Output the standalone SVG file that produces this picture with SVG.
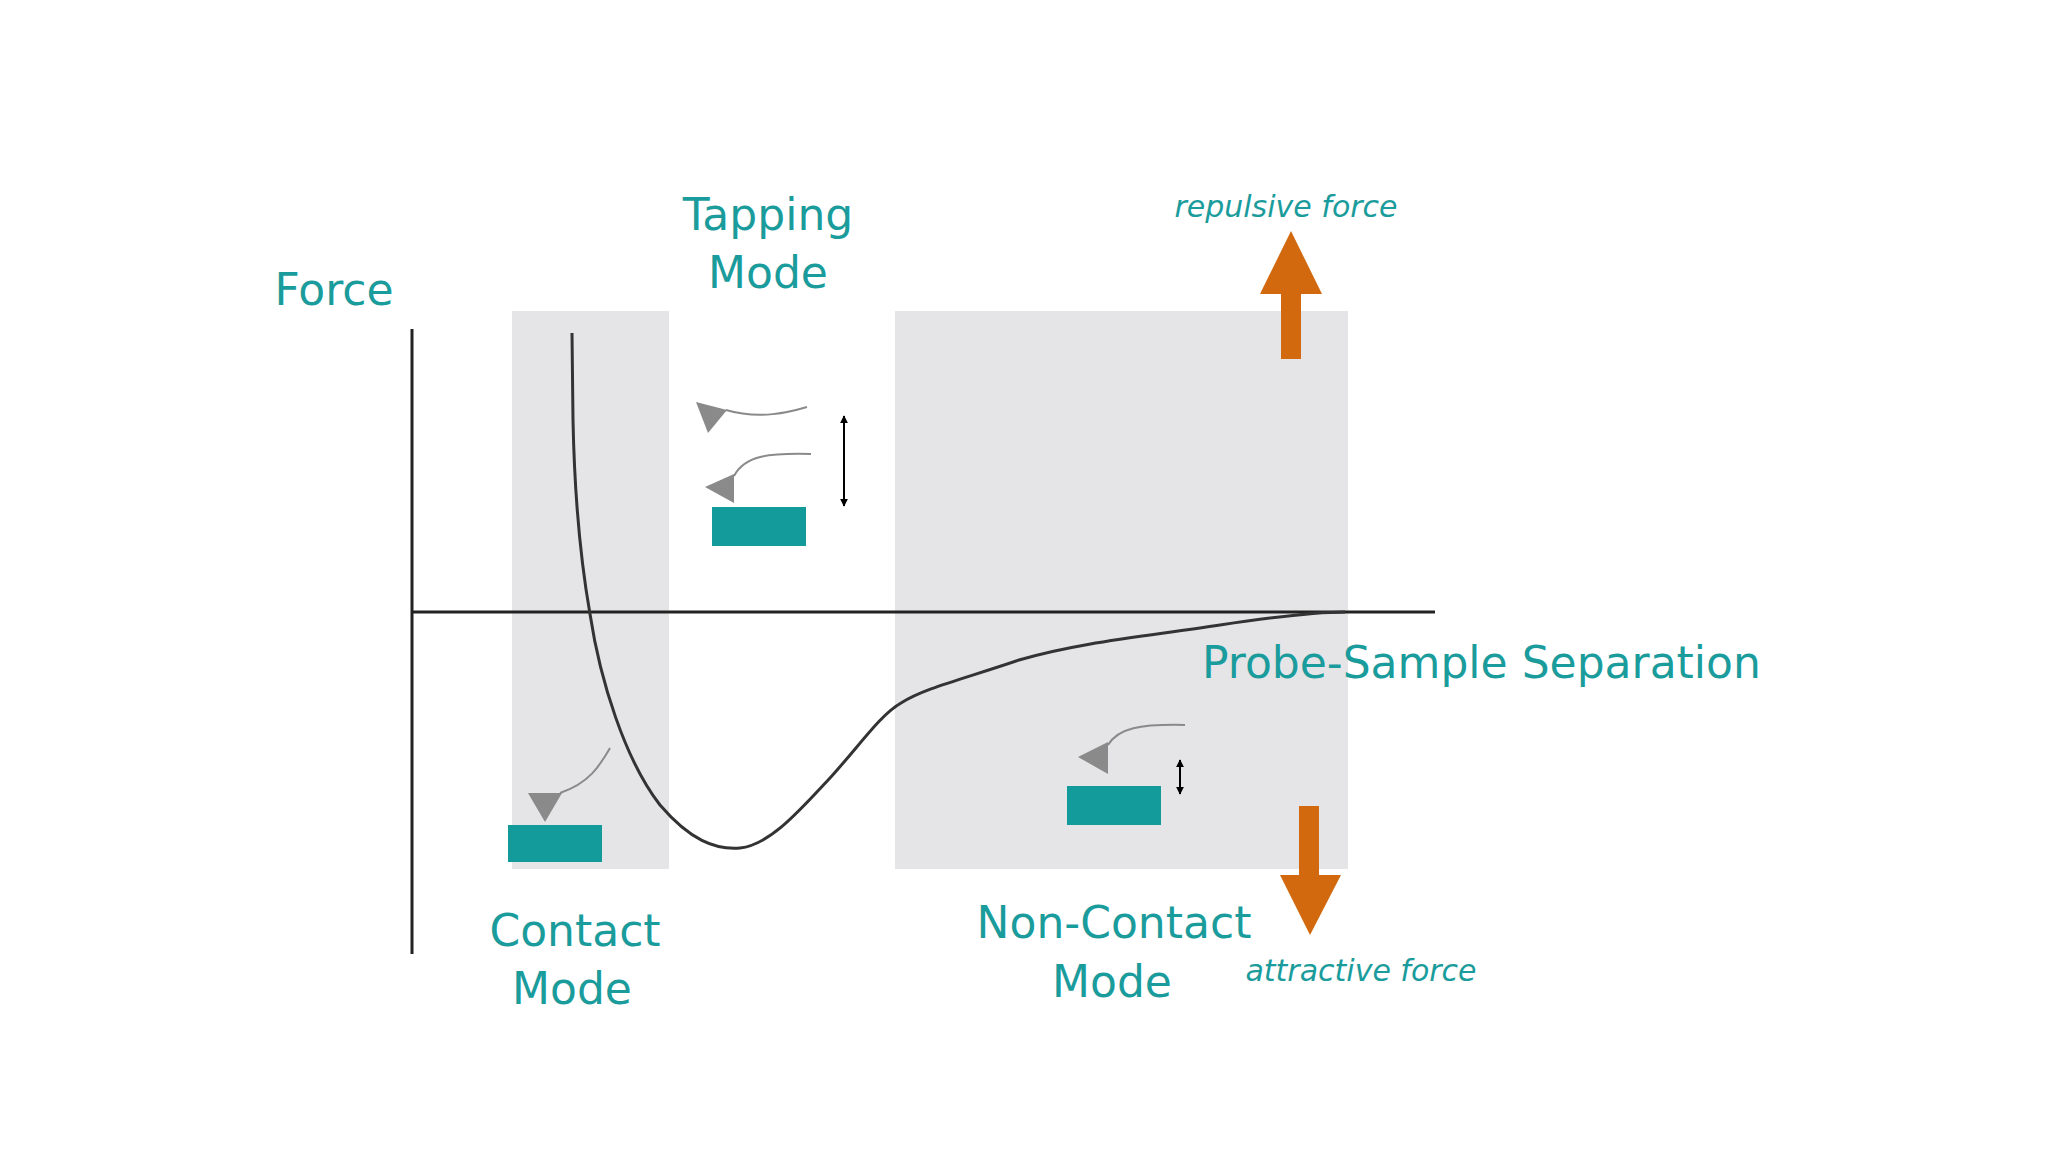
<svg xmlns="http://www.w3.org/2000/svg" width="2048" height="1152" viewBox="0 0 2048 1152">
<defs>
<style>
.lbl{font-family:"DejaVu Sans","Liberation Sans",Arial,sans-serif;fill:#1b9c9c;font-size:44px;text-anchor:middle}
.it{font-family:"DejaVu Sans","Liberation Sans",Arial,sans-serif;fill:#1b9c9c;font-size:30px;font-style:italic;text-anchor:middle}
.band{fill:#e5e4e7}
.teal{fill:#139a9a}
.tri{fill:#8a8a8a}
.cant{fill:none;stroke:#8a8a8a;stroke-width:2}
.orange{fill:#d2690e}
</style>
<marker id="ah" viewBox="0 0 10 10" refX="9" refY="5" markerWidth="4" markerHeight="4" orient="auto-start-reverse"><path d="M0,0L10,5L0,10z" fill="#000"/></marker>
<clipPath id="cl"><rect x="0" y="0" width="1766" height="1152"/></clipPath>
</defs>
<rect width="2048" height="1152" fill="#fff"/>
<g id="contact-band"><rect class="band" x="512" y="311" width="157" height="558"/></g>
<g id="noncontact-band"><rect class="band" x="895" y="311" width="453" height="558"/></g>
<g id="axes" stroke="#222" stroke-width="3" fill="none">
<line x1="412" y1="329" x2="412" y2="954"/>
<line x1="411" y1="612" x2="1435" y2="612"/>
</g>
<g id="curve"><path d="M572,333 L573,420 C574,470 577,540 590,614 C600,680 625,760 660,805 C690,840 715,850 740,848 C770,845 800,810 830,778 C860,745 880,715 901,703 C925,688 960,680 1019,660 C1080,642 1149,636 1220,625 C1280,616 1320,612 1345,612" fill="none" stroke="#333" stroke-width="3"/></g>
<text class="lbl" x="334" y="305">Force</text>
<text class="lbl" x="768" y="230">Tapping</text>
<text class="lbl" x="768" y="288">Mode</text>
<text class="lbl" x="575" y="946">Contact</text>
<text class="lbl" x="572" y="1004">Mode</text>
<text class="lbl" x="1114" y="938">Non-Contact</text>
<text class="lbl" x="1112" y="997">Mode</text>
<text class="lbl" x="1202" y="678" style="text-anchor:start" clip-path="url(#cl)">Probe-Sample Separation</text>
<text class="it" x="1286" y="217">repulsive force</text>
<text class="it" x="1361" y="981">attractive force</text>
<g id="repulsive-arrow"><path class="orange" d="M1281,359 L1301,359 L1301,294 L1322,294 L1291,231 L1260,294 L1281,294z"/></g>
<g id="attractive-arrow"><path class="orange" d="M1299,806 L1319,806 L1319,875 L1341,875 L1310,935 L1280,875 L1299,875z"/></g>
<g id="contact-probe">
<rect class="teal" x="508" y="825" width="94" height="37"/>
<path class="tri" d="M528,793 L562,793 L545,822z"/>
<path class="cant" d="M560,793 C590,783 600,765 610,748"/>
</g>
<g id="tapping-probe">
<rect class="teal" x="712" y="507" width="94" height="39"/>
<path class="tri" d="M696,402 L727,410 L708,433z"/>
<path class="cant" d="M726,410 C760,420 790,412 807,407"/>
<path class="tri" d="M705,487 L734,474 L734,503z"/>
<path class="cant" d="M734,476 C745,455 770,453 811,454"/>
<line x1="844" y1="416" x2="844" y2="506" stroke="#000" stroke-width="2" marker-start="url(#ah)" marker-end="url(#ah)"/>
</g>
<g id="noncontact-probe">
<rect class="teal" x="1067" y="786" width="94" height="39"/>
<path class="tri" d="M1078,757 L1108,742 L1108,774z"/>
<path class="cant" d="M1108,745 C1118,728 1140,724 1185,725"/>
<line x1="1180" y1="760" x2="1180" y2="794" stroke="#000" stroke-width="2" marker-start="url(#ah)" marker-end="url(#ah)"/>
</g>
</svg>
